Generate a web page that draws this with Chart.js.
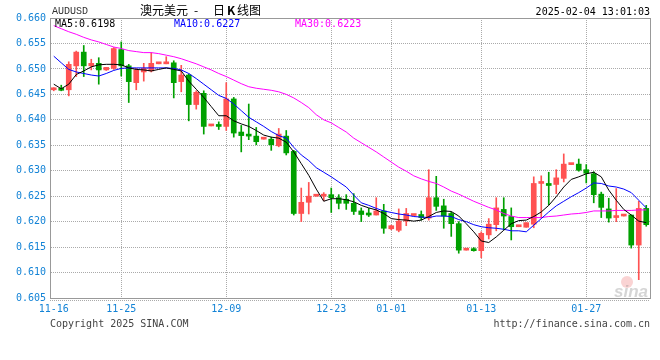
<!DOCTYPE html>
<html>
<head>
<meta charset="utf-8">
<script src="https://cdn.jsdelivr.net/npm/chart.js@4.4.1/dist/chart.umd.min.js"></script>
<style>
  html, body { margin: 0; padding: 0; background: #fff; }
  #c { display: block; }
</style>
</head>
<body>
<canvas id="c" width="660" height="360"></canvas>
<script>
// daily bars, 2024-11-16 .. 2025-02-04 (no bar on 12-25)
const dates = [
    '11-16','11-17','11-18','11-19','11-20','11-21','11-22','11-23','11-24','11-25',
    '11-26','11-27','11-28','11-29','11-30','12-01','12-02','12-03','12-04','12-05',
    '12-06','12-07','12-08','12-09','12-10','12-11','12-12','12-13','12-14','12-15',
    '12-16','12-17','12-18','12-19','12-20','12-21','12-22','12-23','12-24','12-26',
    '12-27','12-28','12-29','12-30','12-31','01-01','01-02','01-03','01-04','01-05',
    '01-06','01-07','01-08','01-09','01-10','01-11','01-12','01-13','01-14','01-15',
    '01-16','01-17','01-18','01-19','01-20','01-21','01-22','01-23','01-24','01-25',
    '01-26','01-27','01-28','01-29','01-30','01-31','02-01','02-02','02-03','02-04'
];
const tickDates = ['11-16', '11-25', '12-09', '12-23', '01-01', '01-13', '01-27'];

const opens = [
    0.6459, 0.6462, 0.6459, 0.6506, 0.6533, 0.6506, 0.6511, 0.6498, 0.6501, 0.6538,
    0.6506, 0.6473, 0.6494, 0.6496, 0.6510, 0.6510, 0.6512, 0.6475, 0.6488, 0.6430,
    0.6452, 0.6388, 0.6389, 0.6387, 0.6441, 0.6376, 0.6370, 0.6368, 0.6362, 0.6362,
    0.6349, 0.6368, 0.6338, 0.6216, 0.6238, 0.6250, 0.6250, 0.6253, 0.6247, 0.6244,
    0.6236, 0.6221, 0.6217, 0.6213, 0.6221, 0.6186, 0.6183, 0.6201, 0.6212, 0.6214,
    0.6207, 0.6247, 0.6231, 0.6216, 0.6196, 0.6144, 0.6145, 0.6143, 0.6174, 0.6194,
    0.6224, 0.6210, 0.6190, 0.6189, 0.6195, 0.6275, 0.6275, 0.6273, 0.6285, 0.6312,
    0.6313, 0.6302, 0.6294, 0.6254, 0.6225, 0.6208, 0.6211, 0.6213, 0.6154, 0.6226
];
const highs = [
    0.6463, 0.6468, 0.6514, 0.6535, 0.6546, 0.6519, 0.6522, 0.6503, 0.6542, 0.6553,
    0.6509, 0.6501, 0.6511, 0.6532, 0.6511, 0.6524, 0.6516, 0.6507, 0.6490, 0.6457,
    0.6457, 0.6389, 0.6396, 0.6473, 0.6444, 0.6389, 0.6431, 0.6385, 0.6363, 0.6366,
    0.6383, 0.6379, 0.6340, 0.6266, 0.6277, 0.6251, 0.6257, 0.6266, 0.6253, 0.6253,
    0.6255, 0.6227, 0.6226, 0.6247, 0.6234, 0.6193, 0.6225, 0.6226, 0.6213, 0.6221,
    0.6302, 0.6289, 0.6244, 0.6219, 0.6200, 0.6145, 0.6149, 0.6180, 0.6206, 0.6247,
    0.6247, 0.6227, 0.6191, 0.6198, 0.6288, 0.6290, 0.6297, 0.6302, 0.6333, 0.6313,
    0.6323, 0.6312, 0.6298, 0.6258, 0.6246, 0.6265, 0.6212, 0.6213, 0.6240, 0.6232
];
const lows = [
    0.6457, 0.6457, 0.6447, 0.6485, 0.6485, 0.6498, 0.6470, 0.6497, 0.6499, 0.6486,
    0.6434, 0.6459, 0.6476, 0.6494, 0.6510, 0.6510, 0.6443, 0.6455, 0.6398, 0.6421,
    0.6372, 0.6388, 0.6381, 0.6379, 0.6366, 0.6337, 0.6361, 0.6351, 0.6362, 0.6340,
    0.6347, 0.6331, 0.6213, 0.6200, 0.6215, 0.6250, 0.6241, 0.6218, 0.6225, 0.6224,
    0.6214, 0.6200, 0.6210, 0.6213, 0.6177, 0.6184, 0.6180, 0.6192, 0.6212, 0.6203,
    0.6203, 0.6222, 0.6187, 0.6171, 0.6138, 0.6144, 0.6142, 0.6129, 0.6166, 0.6182,
    0.6184, 0.6164, 0.6190, 0.6189, 0.6188, 0.6207, 0.6233, 0.6255, 0.6278, 0.6312,
    0.6299, 0.6276, 0.6237, 0.6208, 0.6199, 0.6200, 0.6211, 0.6148, 0.6086, 0.6191
];
const closes = [
    0.6461, 0.6458, 0.6509, 0.6533, 0.6506, 0.6511, 0.6498, 0.6503, 0.6540, 0.6506,
    0.6475, 0.6498, 0.6501, 0.6511, 0.6511, 0.6511, 0.6473, 0.6488, 0.6430, 0.6454,
    0.6387, 0.6389, 0.6387, 0.6441, 0.6374, 0.6369, 0.6368, 0.6357, 0.6363, 0.6351,
    0.6372, 0.6335, 0.6216, 0.6238, 0.6250, 0.6251, 0.6251, 0.6247, 0.6236, 0.6236,
    0.6220, 0.6214, 0.6213, 0.6221, 0.6187, 0.6192, 0.6201, 0.6216, 0.6213, 0.6208,
    0.6247, 0.6230, 0.6211, 0.6196, 0.6144, 0.6145, 0.6143, 0.6177, 0.6195, 0.6227,
    0.6211, 0.6190, 0.6191, 0.6198, 0.6275, 0.6276, 0.6271, 0.6286, 0.6313, 0.6313,
    0.6301, 0.6295, 0.6253, 0.6228, 0.6207, 0.6209, 0.6212, 0.6154, 0.6226, 0.6194
];

const ma5 = [
    0.6470, 0.6461, 0.6470, 0.6489, 0.6496, 0.6504, 0.6508, 0.6509, 0.6509, 0.6508,
    0.6502, 0.6499, 0.6498, 0.6496, 0.6499, 0.6502, 0.6499, 0.6496, 0.6476, 0.6460,
    0.6444, 0.6426, 0.6408, 0.6408, 0.6398, 0.6392, 0.6387, 0.6379, 0.6370, 0.6366,
    0.6364, 0.6356, 0.6337, 0.6314, 0.6291, 0.6264, 0.6240, 0.6245, 0.6245, 0.6243,
    0.6239, 0.6232, 0.6227, 0.6223, 0.6216, 0.6206, 0.6204, 0.6203, 0.6201, 0.6203,
    0.6210, 0.6218, 0.6221, 0.6220, 0.6211, 0.6196, 0.6180, 0.6162, 0.6159, 0.6170,
    0.6183, 0.6196, 0.6202, 0.6203, 0.6210, 0.6219, 0.6232, 0.6249, 0.6268, 0.6283,
    0.6288, 0.6294, 0.6297, 0.6288, 0.6262, 0.6242, 0.6224, 0.6213, 0.6201, 0.6198
];
const ma10 = [
    0.6525, 0.6512, 0.6499, 0.6494, 0.6491, 0.6488, 0.6486, 0.6491, 0.6497, 0.6501,
    0.6502, 0.6502, 0.6502, 0.6502, 0.6502, 0.6502, 0.6501, 0.6498, 0.6491, 0.6481,
    0.6470, 0.6459, 0.6448, 0.6442, 0.6431, 0.6418, 0.6405, 0.6396, 0.6387, 0.6377,
    0.6369, 0.6364, 0.6346, 0.6331, 0.6320, 0.6306, 0.6297, 0.6288, 0.6278, 0.6268,
    0.6252, 0.6237, 0.6232, 0.6226, 0.6221, 0.6218, 0.6215, 0.6213, 0.6210, 0.6209,
    0.6208, 0.6211, 0.6211, 0.6210, 0.6204, 0.6200, 0.6194, 0.6190, 0.6188, 0.6187,
    0.6185, 0.6182, 0.6182, 0.6180, 0.6193, 0.6206, 0.6219, 0.6231, 0.6240, 0.6249,
    0.6257, 0.6266, 0.6276, 0.6275, 0.6270, 0.6268, 0.6264, 0.6257, 0.6242, 0.6227
];
const ma30 = [
    0.6585, 0.6579, 0.6573, 0.6568, 0.6562, 0.6557, 0.6553, 0.6548, 0.6543, 0.6540,
    0.6536, 0.6534, 0.6532, 0.6532, 0.6530, 0.6527, 0.6524, 0.6520, 0.6515, 0.6510,
    0.6504, 0.6498, 0.6491, 0.6485, 0.6478, 0.6471, 0.6465, 0.6462, 0.6460, 0.6458,
    0.6455, 0.6450, 0.6443, 0.6434, 0.6424, 0.6410, 0.6400, 0.6394, 0.6385, 0.6376,
    0.6364, 0.6355, 0.6346, 0.6337, 0.6327, 0.6317, 0.6307, 0.6299, 0.6290, 0.6284,
    0.6279, 0.6275, 0.6268, 0.6260, 0.6254, 0.6247, 0.6240, 0.6234, 0.6228, 0.6223,
    0.6216, 0.6211, 0.6208, 0.6208, 0.6208, 0.6208, 0.6210, 0.6211, 0.6213, 0.6215,
    0.6216, 0.6218, 0.6221, 0.6221, 0.6221, 0.6222, 0.6222, 0.6222, 0.6223, 0.6223
];

const yMin = 0.605;
const yMax = 0.660;
const yStep = 0.005;

const UP = '#ff5252';
const DOWN = '#00a000';
const MONO = '10px "DejaVu Sans Mono", monospace';

const candleColors = closes.map((c, i) => c >= opens[i] ? UP : DOWN);
const wicks = lows.map((l, i) => [l, highs[i]]);
const bodies = opens.map((o, i) => [o, closes[i]]);

const framePlugin = {
    id: 'frame',
    afterDraw(chart) {
        const ctx = chart.ctx;
        const a = chart.chartArea;
        ctx.save();
        // box round the plot
        ctx.strokeStyle = '#999999';
        ctx.lineWidth = 1;
        ctx.strokeRect(a.left + 0.5, a.top + 0.5, a.right - a.left, a.bottom - a.top);
        // dotted line under the axis
        ctx.setLineDash([1, 1]);
        ctx.strokeStyle = '#aaaaaa';
        ctx.beginPath();
        ctx.moveTo(a.left, a.bottom + 2.5);
        ctx.lineTo(a.right, a.bottom + 2.5);
        ctx.stroke();
        ctx.setLineDash([]);

        ctx.textBaseline = 'middle';
        ctx.font = '10px "Liberation Mono", monospace';
        ctx.fillStyle = '#333333';
        ctx.fillText('AUDUSD', 52, 11);

        ctx.font = '12px "Noto Sans CJK SC", sans-serif';
        ctx.fillStyle = '#000000';
        ctx.fillText('澳元美元', 140, 10);
        ctx.fillText('-', 194, 10);
        ctx.fillText('日', 213, 10);
        ctx.font = 'bold 12px "Noto Sans CJK SC", sans-serif';
        ctx.fillText('K', 227, 10);
        ctx.font = '12px "Noto Sans CJK SC", sans-serif';
        ctx.fillText('线图', 237, 10);

        ctx.font = MONO;
        ctx.textAlign = 'right';
        ctx.fillText('2025-02-04 13:01:03', 650, 12);
        ctx.textAlign = 'left';

        ctx.fillStyle = '#000000';
        ctx.fillText('MA5:' + ma5[ma5.length - 1].toFixed(4), 55, 24);
        ctx.fillStyle = '#0000ff';
        ctx.fillText('MA10:' + ma10[ma10.length - 1].toFixed(4), 174, 24);
        ctx.fillStyle = '#ff00ff';
        ctx.fillText('MA30:' + ma30[ma30.length - 1].toFixed(4), 295, 24);

        ctx.fillStyle = '#444444';
        ctx.fillText('Copyright 2025 SINA.COM', 50, 324);
        ctx.textAlign = 'right';
        ctx.fillText('http://finance.sina.com.cn', 650, 324);

        // faint watermark
        ctx.globalAlpha = 0.35;
        ctx.fillStyle = '#f08080';
        ctx.beginPath();
        ctx.arc(627, 282, 6, 0, Math.PI * 2);
        ctx.fill();
        ctx.fillStyle = '#888888';
        ctx.font = 'italic bold 17px "Liberation Sans", sans-serif';
        ctx.fillText('sina', 648, 292);
        ctx.restore();
    }
};

new Chart(document.getElementById('c'), {
    type: 'bar',
    data: {
        labels: dates,
        datasets: [
            { type: 'line', label: 'MA5', data: ma5, borderColor: '#000000', borderWidth: 1, pointRadius: 0, fill: false, tension: 0 },
            { type: 'line', label: 'MA10', data: ma10, borderColor: '#0000ff', borderWidth: 1, pointRadius: 0, fill: false, tension: 0 },
            { type: 'line', label: 'MA30', data: ma30, borderColor: '#ff00ff', borderWidth: 1, pointRadius: 0, fill: false, tension: 0 },
            { label: 'body', data: bodies, backgroundColor: candleColors, barThickness: 5, minBarLength: 2, grouped: false, borderWidth: 0 },
            { label: 'wick', data: wicks, backgroundColor: candleColors, barThickness: 1, grouped: false, borderWidth: 0 }
        ]
    },
    options: {
        responsive: false,
        animation: false,
        devicePixelRatio: 1,
        layout: { padding: { left: 0, top: 18, right: 10, bottom: 0 } },
        plugins: {
            legend: { display: false },
            tooltip: { enabled: false }
        },
        scales: {
            x: {
                offset: true,
                afterFit: function (scale) { scale.height = 62; },
                grid: {
                    offset: false,
                    drawTicks: false,
                    color: '#aaaaaa',
                    lineWidth: function (c) {
                        const lab = dates[c.index];
                        return (tickDates.includes(lab) && c.index > 0) ? 1 : 0;
                    }
                },
                border: { color: '#999999', width: 1, dash: [1, 1] },
                ticks: {
                    autoSkip: false,
                    maxRotation: 0,
                    padding: 5,
                    color: '#1383d6',
                    font: { family: '"DejaVu Sans Mono", monospace', size: 10 },
                    callback: function (v, i) {
                        const lab = dates[i];
                        return tickDates.includes(lab) ? lab : '';
                    }
                }
            },
            y: {
                min: yMin,
                max: yMax,
                afterFit: function (scale) { scale.width = 50; },
                grid: {
                    drawTicks: false,
                    color: '#aaaaaa',
                    lineWidth: function (c) {
                        return (c.tick && (Math.abs(c.tick.value - yMin) < 1e-6 || Math.abs(c.tick.value - yMax) < 1e-6)) ? 0 : 1;
                    }
                },
                border: { color: '#999999', width: 1, dash: [1, 1] },
                ticks: {
                    stepSize: yStep,
                    padding: 4,
                    color: '#1383d6',
                    font: { family: '"DejaVu Sans Mono", monospace', size: 10 },
                    callback: function (v) { return Number(v).toFixed(3); }
                }
            }
        }
    },
    plugins: [framePlugin]
});
</script>
</body>
</html>
